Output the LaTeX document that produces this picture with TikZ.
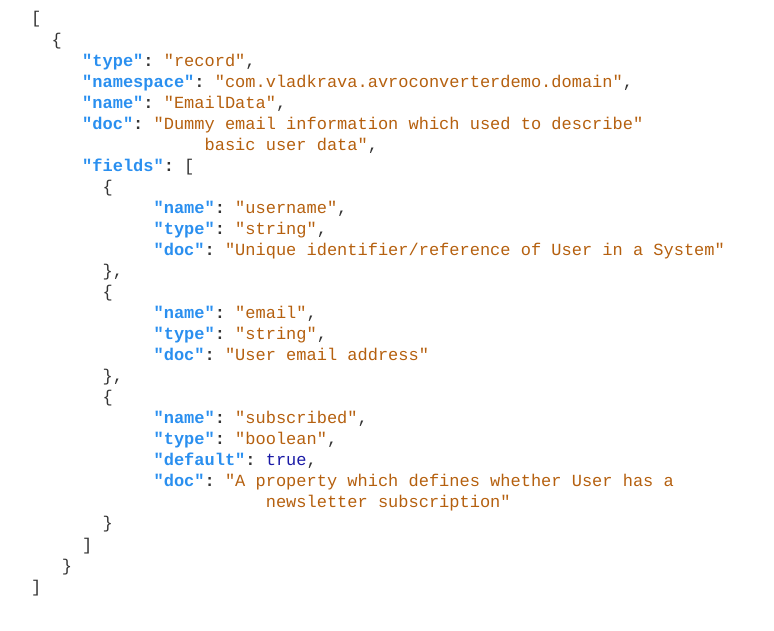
\documentclass[tikz,border=0pt]{standalone}
\usepackage{fontspec}
\setmonofont{Liberation Mono}
\definecolor{keyc}{HTML}{2A8FEF}
\definecolor{strc}{HTML}{B5600F}
\definecolor{punc}{HTML}{333333}
\definecolor{boolc}{HTML}{1A1AA6}
\newcommand{\K}[1]{\textcolor{keyc}{\bfseries"#1"}\textcolor{punc}{\bfseries:} }
\newcommand{\St}[1]{\textcolor{strc}{"#1"}}
\newcommand{\Pc}[1]{\textcolor{punc}{#1}}
\tikzset{codeline/.style={anchor=base west,inner sep=0pt,font=\ttfamily\fontsize{17}{20}\selectfont}}
\begin{document}
\begin{tikzpicture}[x=1pt,y=-1pt]
\useasboundingbox (0,0) rectangle (774,631);
\newcommand{\Ln}[3]{\node[codeline] (l#1) at ({31+#2*10.2},{19+#1*21.04+5}) {#3};}
\Ln{0}{0}{\Pc{[}}
\Ln{1}{2}{\Pc{\{}}
\Ln{2}{5}{\K{type}\St{record}\Pc{,}}
\Ln{3}{5}{\K{namespace}\St{com.vladkrava.avroconverterdemo.domain}\Pc{,}}
\Ln{4}{5}{\K{name}\St{EmailData}\Pc{,}}
\Ln{5}{5}{\K{doc}\St{Dummy email information which used to describe}}
\Ln{6}{17}{\textcolor{strc}{basic user data"}\Pc{,}}
\Ln{7}{5}{\K{fields}\Pc{[}}
\Ln{8}{7}{\Pc{\{}}
\Ln{9}{12}{\K{name}\St{username}\Pc{,}}
\Ln{10}{12}{\K{type}\St{string}\Pc{,}}
\Ln{11}{12}{\K{doc}\St{Unique identifier/reference of User in a System}}
\Ln{12}{7}{\Pc{\},}}
\Ln{13}{7}{\Pc{\{}}
\Ln{14}{12}{\K{name}\St{email}\Pc{,}}
\Ln{15}{12}{\K{type}\St{string}\Pc{,}}
\Ln{16}{12}{\K{doc}\St{User email address}}
\Ln{17}{7}{\Pc{\},}}
\Ln{18}{7}{\Pc{\{}}
\Ln{19}{12}{\K{name}\St{subscribed}\Pc{,}}
\Ln{20}{12}{\K{type}\St{boolean}\Pc{,}}
\Ln{21}{12}{\K{default}\textcolor{boolc}{true}\Pc{,}}
\Ln{22}{12}{\K{doc}\textcolor{strc}{"A property which defines whether User has a}}
\Ln{23}{23}{\textcolor{strc}{newsletter subscription"}}
\Ln{24}{7}{\Pc{\}}}
\Ln{25}{5}{\Pc{]}}
\Ln{26}{3}{\Pc{\}}}
\Ln{27}{0}{\Pc{]}}
\end{tikzpicture}
\end{document}
